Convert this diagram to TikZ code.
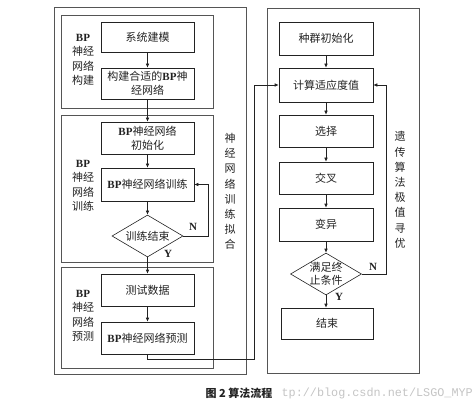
\documentclass[tikz,border=0pt]{standalone}
\usepackage{fontspec}
\setmainfont{Noto Sans CJK SC}
\newfontfamily\latinfont{Liberation Serif}
\newfontfamily\markfont{Liberation Mono}
\usetikzlibrary{arrows.meta,shapes.geometric}
\definecolor{FlowInk}{HTML}{222222}
\definecolor{FlowFrame}{HTML}{555555}
\definecolor{FlowMark}{HTML}{C4C4C4}
\newcommand{\bpword}{{\latinfont\bfseries BP}}
\tikzset{
  every node/.style={font=\fontsize{11}{14}\selectfont, text=FlowInk},
  stepbox/.style={draw=FlowInk, line width=0.6pt, minimum width=93pt, minimum height=32pt, align=center, inner sep=1pt},
  check/.style={draw=FlowInk, line width=0.6pt, shape=diamond, aspect=1.7, minimum width=71pt, minimum height=42pt, inner sep=-4pt, align=center, font=\fontsize{11}{13}\selectfont},
  frame/.style={draw=FlowFrame, line width=0.6pt},
  flow/.style={-{Latex[length=4pt,width=3.5pt]}, draw=FlowInk, line width=0.6pt},
  sidetext/.style={align=center, font=\fontsize{11}{14.5}\selectfont},
  vertext/.style={align=center, font=\fontsize{11}{15.2}\selectfont},
  yesno/.style={font=\latinfont\bfseries\fontsize{11}{13}\selectfont},
}
\begin{document}
\begin{tikzpicture}[x=1pt,y=-1pt]
  \useasboundingbox (0,0) rectangle (474,409);
  % Frames: network part (left) and genetic part (right)
  \draw[frame] (54,7) rectangle (246,374);
  \draw[frame] (61,15) rectangle (213,108);
  \draw[frame] (61,115) rectangle (213,262);
  \draw[frame] (61,267) rectangle (213,368);
  \draw[frame] (267,8) rectangle (419,373);
  % Left column steps
  \node[stepbox, minimum height=30pt] (model) at (147.5,37) {系统建模};
  \node[stepbox, minimum height=31pt] (build) at (147.5,83.5) {构建合适的\bpword 神\\经网络};
  \node[stepbox] (init) at (147.5,138) {\bpword 神经网络\\初始化};
  \node[stepbox, minimum height=33pt] (train) at (147.5,184.5) {\bpword 神经网络训练};
  \node[check] (done) at (147.5,236) {训练结束};
  \node[stepbox] (test) at (147.5,290) {测试数据};
  \node[stepbox] (pred) at (147.5,338) {\bpword 神经网络预测};
  % Group labels
  \node[sidetext] (lbuild) at (83,60) {\bpword\\神经\\网络\\构建};
  \node[sidetext] (ltrain) at (83,186) {\bpword\\神经\\网络\\训练};
  \node[sidetext] (lpred) at (83,316) {\bpword\\神经\\网络\\预测};
  \node[vertext] (lfit) at (230,191.5) {神\\经\\网\\络\\训\\练\\拟\\合};
  % Right column steps
  \node[stepbox, minimum width=94pt, minimum height=33pt] (pop) at (326,38.5) {种群初始化};
  \node[stepbox, minimum width=94pt, minimum height=34pt] (fit) at (326,85) {计算适应度值};
  \node[stepbox, minimum width=94pt] (sel) at (326,131) {选择};
  \node[stepbox, minimum width=94pt] (cross) at (326,178) {交叉};
  \node[stepbox, minimum width=94pt, minimum height=33pt] (mut) at (326,224.5) {变异};
  \node[check] (stop) at (326,274) {满足终\\止条件};
  \node[stepbox, minimum width=92pt, minimum height=31pt] (fin) at (327,323.5) {结束};
  \node[vertext] (lga) at (400,190) {遗\\传\\算\\法\\极\\值\\寻\\优};
  % Flow of the left column
  \draw[flow] (model) -- (build);
  \draw[flow] (build) -- (init);
  \draw[flow] (init) -- (train);
  \draw[flow] (train) -- (done);
  \draw[flow] (done.east) -- ++(25,0) |- (train.east);
  \draw[flow] (done) -- (test);
  \draw[flow] (test) -- (pred);
  \node[yesno] (ln1) at (193,227) {N};
  \node[yesno] (ly1) at (168,254) {Y};
  % Hand-over to the genetic part
  \coordinate (feed) at (254,359);
  \draw[flow] (pred.south) |- (feed) |- (fit.west);
  % Flow of the right column
  \draw[flow] (pop) -- (fit);
  \draw[flow] (fit) -- (sel);
  \draw[flow] (sel) -- (cross);
  \draw[flow] (cross) -- (mut);
  \draw[flow] (mut) -- (stop);
  \draw[flow] (stop) -- (fin.north -| stop.south);
  \draw[flow] (stop.east) -- ++(24,0) |- (fit.east);
  \node[yesno] (ln2) at (373,267) {N};
  \node[yesno] (ly2) at (339,297) {Y};
  % Caption and watermark
  \node[inner sep=0pt, font=\bfseries\fontsize{11}{13}\selectfont] (cap) at (239,393) {图 2 算法流程};
  \node[anchor=east, inner sep=0pt, text=FlowMark, font=\markfont\fontsize{11.8}{14}\selectfont] (mark) at (473,393) {tp://blog.csdn.net/LSGO\_MYP};
\end{tikzpicture}
\end{document}
